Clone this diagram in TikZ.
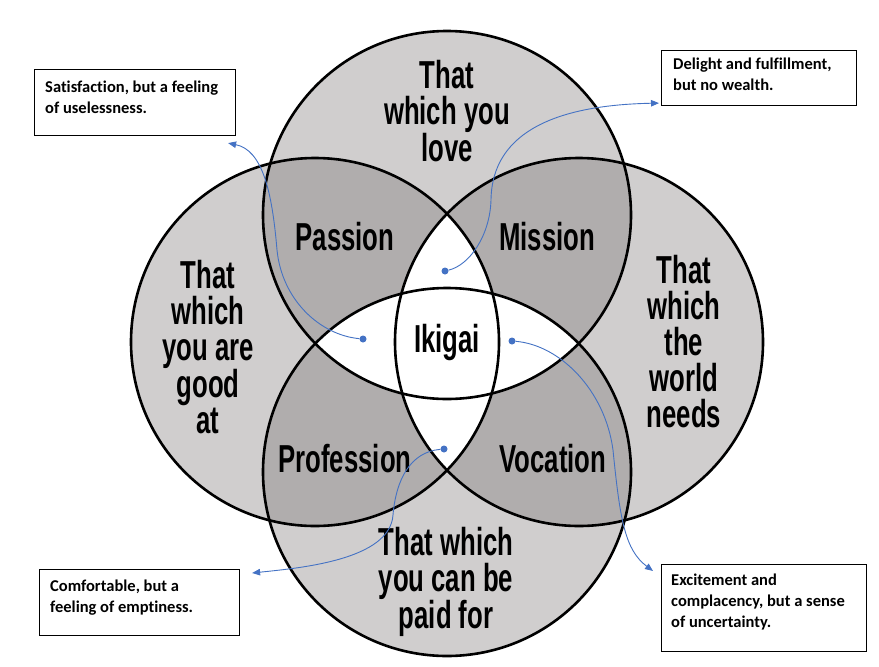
\documentclass[tikz,border=0pt]{standalone}
\usepackage{fontspec}
\usetikzlibrary{arrows.meta}
\newfontfamily\lblfont[FakeStretch=0.66]{Liberation Sans}
\newfontfamily\boxfont[Ligatures=NoCommon]{Carlito}
\definecolor{lightg}{HTML}{D0CECE}
\definecolor{darkg}{HTML}{B0ADAD}
\definecolor{connc}{HTML}{4472C4}
\tikzset{
  lbl/.style={font=\lblfont\bfseries\fontsize{39}{36}\selectfont, align=center, inner sep=0pt, text=black},
  boxst/.style={draw=black, line width=1.1pt, fill=white, inner sep=0pt, anchor=north west},
  boxtxt/.style={font=\boxfont\bfseries\fontsize{16.5}{21}\selectfont, align=left, inner sep=0pt, anchor=base west},
  dotst/.style={circle, fill=connc, inner sep=0pt, minimum size=7pt},
  connst/.style={draw=connc, line width=0.9pt, -{Triangle[length=8pt,width=6.5pt]}},
  ring/.style={draw=black, line width=2.6pt}
}
\begin{document}
\begin{tikzpicture}[x=1pt,y=-1pt]
\useasboundingbox (0,0) rectangle (879,667);
\fill[white] (0,0) rectangle (879,667);
\coordinate (T) at (447,215);
\coordinate (B) at (447,472);
\coordinate (L) at (315,342);
\coordinate (R) at (579,342);
\def\rr{184pt}
% single regions
\fill[lightg] (T) circle (\rr) (B) circle (\rr) (L) circle (\rr) (R) circle (\rr);
% pair regions
\begin{scope}
  \clip (T) circle (\rr);
  \fill[darkg] (L) circle (\rr);
  \fill[darkg] (R) circle (\rr);
\end{scope}
\begin{scope}
  \clip (B) circle (\rr);
  \fill[darkg] (L) circle (\rr);
  \fill[darkg] (R) circle (\rr);
\end{scope}
% triple regions
\begin{scope}
  \clip (T) circle (\rr);
  \clip (L) circle (\rr);
  \fill[white] (R) circle (\rr);
  \fill[white] (B) circle (\rr);
\end{scope}
\begin{scope}
  \clip (B) circle (\rr);
  \clip (R) circle (\rr);
  \fill[white] (T) circle (\rr);
  \fill[white] (L) circle (\rr);
\end{scope}
% outlines
\draw[ring] (T) circle (\rr);
\draw[ring] (B) circle (\rr);
\draw[ring] (L) circle (\rr);
\draw[ring] (R) circle (\rr);

% labels
\node[lbl] (love) at (447,111) {That\\which you\\love};
\node[lbl] (good) at (208,347) {That\\which\\you are\\good\\at};
\node[lbl] (needs) at (684,342) {That\\which\\the\\world\\needs};
\node[lbl] (paid) at (446,582) {That which\\you can be\\paid for};
\node[lbl, anchor=base] (passion) at (345,250) {Passion};
\node[lbl, anchor=base] (mission) at (547,250) {Mission};
\node[lbl, anchor=base] (profession) at (345,472) {Profession};
\node[lbl, anchor=base] (vocation) at (553,472) {Vocation};
\node[lbl, anchor=base] (ikigai) at (447,352) {Ikigai};

% boxes
\node[boxst, minimum width=201pt, minimum height=66pt] (b1) at (34,69) {};
\node[boxst, minimum width=195pt, minimum height=55pt] (b2) at (661,50) {};
\node[boxst, minimum width=200pt, minimum height=66pt] (b3) at (39,569) {};
\node[boxst, minimum width=205pt, minimum height=87pt] (b4) at (661,564) {};
% base anchor of a multi-line node is the baseline of its last line
\node[boxtxt] (t1) at ([shift={(11,44)}]b1.north west) {Satisfaction, but a feeling\\of uselessness.};
\node[boxtxt] (t2) at ([shift={(12,40)}]b2.north west) {Delight and fulfillment,\\but no wealth.};
\node[boxtxt] (t3) at ([shift={(11,43)}]b3.north west) {Comfortable, but a\\feeling of emptiness.};
\node[boxtxt] (t4) at ([shift={(10,63)}]b4.north west) {Excitement and\\complacency, but a sense\\of uncertainty.};

% connector ends
\coordinate (a1) at ([shift={(-8,7)}]b1.south east);
\coordinate (a2) at ([shift={(-2,-3)}]b2.south west);
\coordinate (a3) at ([shift={(12,4)}]b3.north east);
\coordinate (a4) at ([shift={(-8,7)}]b4.north west);

% dots
\node[dotst] (d1) at (363,339) {};
\node[dotst] (d2) at (445,271) {};
\node[dotst] (d3) at (444,449) {};
\node[dotst] (d4) at (512,341) {};

% connectors
\draw[connst] (d1) .. controls (320,335) and (282,300) .. (277,250) .. controls (272,190) and (262,150) .. (a1);
\draw[connst] (d2) .. controls (470,265) and (490,235) .. (491,200) .. controls (492,130) and (560,105) .. (a2);
\draw[connst] (d3) .. controls (410,452) and (396,480) .. (393,515) .. controls (390,560) and (300,568) .. (a3);
\draw[connst] (d4) .. controls (560,345) and (605,390) .. (613,450) .. controls (620,520) and (625,550) .. (a4);
\end{tikzpicture}
\end{document}
